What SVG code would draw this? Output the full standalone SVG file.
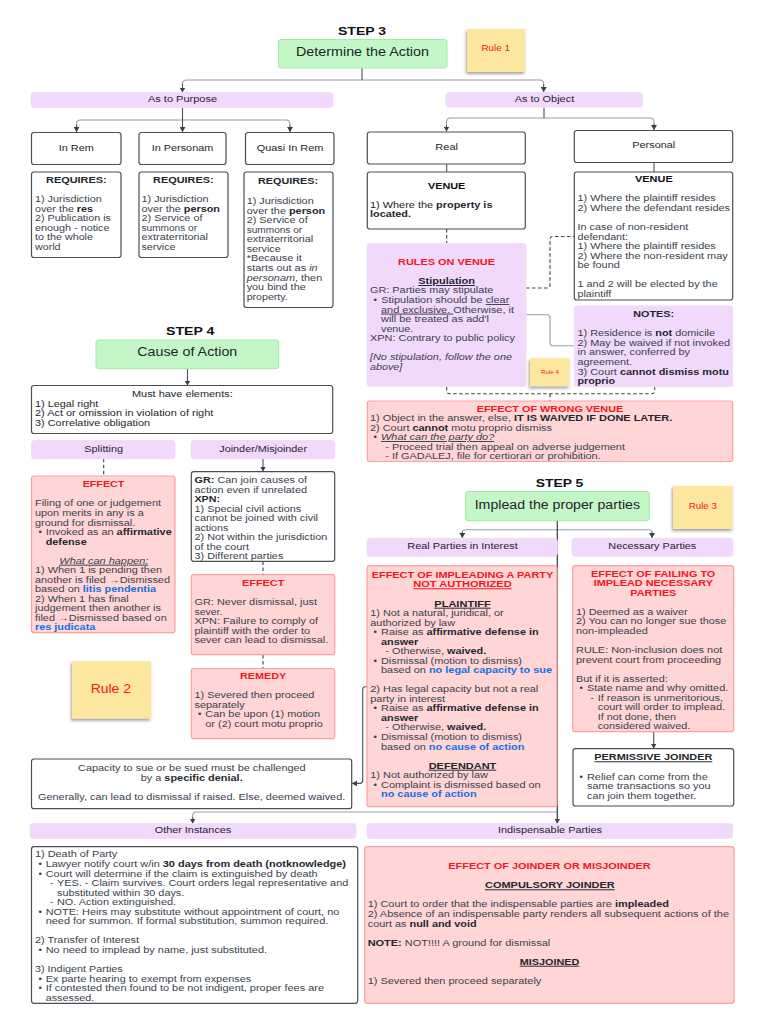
<svg xmlns="http://www.w3.org/2000/svg" width="768" height="1024" viewBox="0 0 768 1024">
<style>
text{font-family:"Liberation Sans",Arial,sans-serif;font-size:9.7px;fill:#3a414a}
.b{font-weight:700;fill:#23272e}
.r{fill:#f5161f;font-weight:700}
.bl{fill:#1071e5;font-weight:700}
.u{text-decoration:underline}
.i{font-style:italic}
.h{font-size:11.5px;font-weight:700;fill:#111}
.l{font-size:12.5px;fill:#1f2329}
.box{fill:#fff;stroke:#4a4f57;stroke-width:1.2}
.pur{fill:#f1d9fc;stroke:#efdcfb;stroke-width:1}
.red{fill:#ffd5d5;stroke:#ff9f9f;stroke-width:1.2}
.grn{fill:#c3f7c8;stroke:#a3eaa9;stroke-width:1}
.note{fill:#fde79f;filter:url(#sh)}
.c{fill:none;stroke:#4a4f57;stroke-width:1.1}
.cl{fill:none;stroke:#9a9ea5;stroke-width:1.1}
.d{fill:none;stroke:#3a414a;stroke-width:1.1;stroke-dasharray:3.5 2.5}
.a{marker-end:url(#ar)}
</style>
<defs>
<marker id="ar" markerUnits="userSpaceOnUse" markerWidth="6" markerHeight="6" refX="5" refY="3" orient="auto"><path d="M0 0L5 3L0 6z" fill="#3a414a"/></marker>
<filter id="sh" x="-20%" y="-20%" width="140%" height="140%"><feDropShadow dx="-1" dy="2" stdDeviation="1.5" flood-color="#555" flood-opacity=".55"/></filter>
</defs>
<rect width="768" height="1024" fill="#fff"/>
<g id="connectors">
<path class="cl" d="M362 80H186.500Q182.500 80 182.500 84"/>
<path class="a c" d="M182.500 84V92.500"/>
<path class="cl" d="M362 80H539.700Q543.700 80 543.700 84"/>
<path class="a c" d="M543.700 84V92"/>
<path class="c" d="M362 68V80"/>
<path class="cl" d="M182.500 120H80.500Q76.500 120 76.500 124V125"/>
<path class="a c" d="M76.500 125V132"/>
<path class="cl" d="M182.500 120H286Q290 120 290 124V125"/>
<path class="a c" d="M290 125V132"/>
<path class="c a" d="M182.500 107.500V132"/>
<path class="cl" d="M544 118H450.500Q446.500 118 446.500 122V125"/>
<path class="a c" d="M446.500 125V131.500"/>
<path class="cl" d="M544 118H650Q654 118 654 122V124"/>
<path class="a c" d="M654 124V130"/>
<path class="c" d="M544 107.500V118"/>
<path class="c" d="M446.700 164V172M654 162.500V172"/>
<path class="d" d="M446.700 229V243"/>
<path class="d" d="M526 288H547Q550 288 550 285V239.500Q550 236.500 553 236.500H574"/>
<path class="cl" d="M526 314.700H547Q550 314.700 550 317.700V342.700Q550 345.700 553 345.700H574"/>
<path class="d" d="M446.700 387V391Q446.700 393.700 449.700 393.700H651.700Q654.700 393.700 654.700 390.700V387M550 393.700V401"/>
<path class="c a" d="M187.500 368.700V385.500"/>
<path class="d" d="M103.700 458.700V476"/>
<path class="c a" d="M263 458.700V471.500"/>
<path class="d" d="M263 561.500V574.500M263 655V668"/>
<path class="c a" d="M367 686.700H365.500Q362.700 686.700 362.700 689.500V780.500Q362.700 783.400 360 783.400H352"/>
<path class="cl" d="M557.300 812H196.700Q192.700 812 192.700 816V817"/>
<path class="a c" d="M192.700 817V823.500"/>
<path class="cl" d="M557.300 529.700H466.300Q462.300 529.700 462.300 532"/>
<path class="a c" d="M462.300 532V538"/>
<path class="cl" d="M557.300 529.700H648Q652 529.700 652 532"/>
<path class="a c" d="M652 532V538"/>
<path class="c a" d="M557.300 520.500V823.500" style="stroke:#444a52;stroke-width:1.3"/>
<path class="c a" d="M653.700 731.700V748.500"/>
</g>
<g id="step3"><text class="h" x="338" y="34.500" textLength="48" lengthAdjust="spacingAndGlyphs">STEP 3</text></g>
<g id="determine"><rect class="grn" x="278.500" y="39.500" width="168.500" height="28.500" rx="2.500"/><text class="l" x="296" y="56" textLength="133" lengthAdjust="spacingAndGlyphs">Determine the Action</text></g>
<g id="rule1"><rect class="note" x="467" y="29" width="58" height="43"/><text x="481.500" y="51" fill="#f5161f" style="fill:#f5161f" textLength="28.500" lengthAdjust="spacingAndGlyphs">Rule 1</text></g>
<g id="purpose"><rect class="pur" x="31" y="92.500" width="302" height="15" rx="3"/><text x="148" y="102.200" textLength="69" lengthAdjust="spacingAndGlyphs" style="fill:#1f2329">As to Purpose</text></g>
<g id="object"><rect class="pur" x="446" y="92.500" width="196.500" height="14.500" rx="3"/><text x="514.700" y="102" textLength="59.500" lengthAdjust="spacingAndGlyphs" style="fill:#1f2329">As to Object</text></g>
<g id="inrem"><rect class="box" x="31.500" y="132.500" width="89.500" height="32" rx="2.500"/><text x="58.700" y="151" textLength="35.300" lengthAdjust="spacingAndGlyphs" style="fill:#1f2329">In Rem</text></g>
<g id="inpersonam"><rect class="box" x="139" y="132.500" width="87" height="32" rx="2.500"/><text x="151.700" y="151" textLength="61.600" lengthAdjust="spacingAndGlyphs" style="fill:#1f2329">In Personam</text></g>
<g id="quasi"><rect class="box" x="245.500" y="132.500" width="88.500" height="32" rx="2.500"/><text x="256.700" y="151" textLength="66.600" lengthAdjust="spacingAndGlyphs" style="fill:#1f2329">Quasi In Rem</text></g>
<g id="req1"><rect class="box" x="31.500" y="172" width="89.500" height="85.500" rx="2.500"/>
<text class="b" x="46" y="182.700" textLength="60.700" lengthAdjust="spacingAndGlyphs">REQUIRES:</text>
<text x="35" y="202" textLength="66.700" lengthAdjust="spacingAndGlyphs">1) Jurisdiction</text>
<text x="35" y="211.500" textLength="58" lengthAdjust="spacingAndGlyphs">over the <tspan class="b">res</tspan></text>
<text x="35" y="221" textLength="76" lengthAdjust="spacingAndGlyphs">2) Publication is</text>
<text x="35" y="230.600" textLength="74.500" lengthAdjust="spacingAndGlyphs">enough - notice</text>
<text x="35" y="240.100" textLength="58" lengthAdjust="spacingAndGlyphs">to the whole</text>
<text x="35" y="249.700" textLength="25.500" lengthAdjust="spacingAndGlyphs">world</text></g>
<g id="req2"><rect class="box" x="139" y="172" width="89" height="85.500" rx="2.500"/>
<text class="b" x="153" y="182.700" textLength="60.700" lengthAdjust="spacingAndGlyphs">REQUIRES:</text>
<text x="141.500" y="202" textLength="67" lengthAdjust="spacingAndGlyphs">1) Jurisdiction</text>
<text x="141.500" y="211.500" textLength="78.500" lengthAdjust="spacingAndGlyphs">over the <tspan class="b">person</tspan></text>
<text x="141.500" y="221" textLength="61" lengthAdjust="spacingAndGlyphs">2) Service of</text>
<text x="141.500" y="230.600" textLength="55.500" lengthAdjust="spacingAndGlyphs">summons or</text>
<text x="141.500" y="240.100" textLength="66.500" lengthAdjust="spacingAndGlyphs">extraterritorial</text>
<text x="141.500" y="249.700" textLength="34" lengthAdjust="spacingAndGlyphs">service</text></g>
<g id="req3"><rect class="box" x="244" y="172" width="89" height="135.500" rx="2.500"/>
<text class="b" x="258" y="184" textLength="60" lengthAdjust="spacingAndGlyphs">REQUIRES:</text>
<text x="246.700" y="204" textLength="67" lengthAdjust="spacingAndGlyphs">1) Jurisdiction</text>
<text x="246.700" y="213.600" textLength="78.500" lengthAdjust="spacingAndGlyphs">over the <tspan class="b">person</tspan></text>
<text x="246.700" y="223.200" textLength="61" lengthAdjust="spacingAndGlyphs">2) Service of</text>
<text x="246.700" y="232.700" textLength="55.500" lengthAdjust="spacingAndGlyphs">summons or</text>
<text x="246.700" y="242.300" textLength="66.500" lengthAdjust="spacingAndGlyphs">extraterritorial</text>
<text x="246.700" y="251.800" textLength="34" lengthAdjust="spacingAndGlyphs">service</text>
<text x="246.700" y="261.400" textLength="55" lengthAdjust="spacingAndGlyphs">*Because it</text>
<text x="246.700" y="270.900" textLength="71" lengthAdjust="spacingAndGlyphs">starts out as <tspan class="i">in</tspan></text>
<text x="246.700" y="280.500" textLength="75.500" lengthAdjust="spacingAndGlyphs"><tspan class="i">personam</tspan>, then</text>
<text x="246.700" y="290" textLength="59" lengthAdjust="spacingAndGlyphs">you bind the</text>
<text x="246.700" y="299.600" textLength="41" lengthAdjust="spacingAndGlyphs">property.</text></g>
<g id="real"><rect class="box" x="367.300" y="132" width="158" height="32" rx="2.500"/><text x="435.300" y="150" textLength="22.700" lengthAdjust="spacingAndGlyphs" style="fill:#1f2329">Real</text></g>
<g id="personal"><rect class="box" x="574.300" y="130.500" width="158.400" height="32" rx="2.500"/><text x="632.300" y="148" textLength="43" lengthAdjust="spacingAndGlyphs" style="fill:#1f2329">Personal</text></g>
<g id="venue-real"><rect class="box" x="367.300" y="172" width="158" height="57" rx="2.500"/>
<text class="b" x="428" y="188.500" textLength="37.300" lengthAdjust="spacingAndGlyphs" style="fill:#111">VENUE</text>
<text x="370" y="207.500" textLength="122.500" lengthAdjust="spacingAndGlyphs" style="fill:#1f2329">1) Where the <tspan class="b">property is</tspan></text>
<text class="b" x="370" y="217" textLength="41" lengthAdjust="spacingAndGlyphs">located.</text></g>
<g id="venue-personal"><rect class="box" x="574.300" y="172" width="158.400" height="128" rx="2.500"/>
<text class="b" x="635" y="182" textLength="37.700" lengthAdjust="spacingAndGlyphs" style="fill:#111">VENUE</text>
<text x="577.500" y="201.300" textLength="138.200" lengthAdjust="spacingAndGlyphs">1) Where the plaintiff resides</text>
<text x="577.500" y="210.900" textLength="152.500" lengthAdjust="spacingAndGlyphs">2) Where the defendant resides</text>
<text x="577.500" y="230" textLength="110.800" lengthAdjust="spacingAndGlyphs">In case of non-resident</text>
<text x="577.500" y="239.600" textLength="50.500" lengthAdjust="spacingAndGlyphs">defendant:</text>
<text x="577.500" y="249.200" textLength="138.200" lengthAdjust="spacingAndGlyphs">1) Where the plaintiff resides</text>
<text x="577.500" y="258.700" textLength="150.200" lengthAdjust="spacingAndGlyphs">2) Where the non-resident may</text>
<text x="577.500" y="268.200" textLength="42.200" lengthAdjust="spacingAndGlyphs">be found</text>
<text x="577.500" y="287.300" textLength="140.200" lengthAdjust="spacingAndGlyphs">1 and 2 will be elected by the</text>
<text x="577.500" y="296.800" textLength="33.800" lengthAdjust="spacingAndGlyphs">plaintiff</text></g>
<g id="rules-venue"><rect class="pur" x="367" y="243.500" width="159" height="143" rx="3"/>
<text class="r" x="398" y="264.700" textLength="97" lengthAdjust="spacingAndGlyphs">RULES ON VENUE</text>
<text class="b u" x="418.300" y="284" textLength="56.700" lengthAdjust="spacingAndGlyphs">Stipulation</text>
<text x="370" y="293.300" textLength="123.300" lengthAdjust="spacingAndGlyphs">GR: Parties may stipulate</text>
<text x="373.500" y="303">•</text>
<text x="381.300" y="303" textLength="128" lengthAdjust="spacingAndGlyphs">Stipulation should be <tspan class="u">clear</tspan></text>
<text x="381" y="312.600" textLength="133" lengthAdjust="spacingAndGlyphs"><tspan class="u">and exclusive. </tspan>Otherwise, it</text>
<text x="381" y="322.100" textLength="108" lengthAdjust="spacingAndGlyphs">will be treated as add'l</text>
<text x="381" y="331.700" textLength="32.300" lengthAdjust="spacingAndGlyphs">venue.</text>
<text x="370" y="341.300" textLength="145" lengthAdjust="spacingAndGlyphs">XPN: Contrary to public policy</text>
<text class="i" x="370" y="360.300" textLength="142" lengthAdjust="spacingAndGlyphs">[No stipulation, follow the one</text>
<text class="i" x="370" y="369.800" textLength="32.300" lengthAdjust="spacingAndGlyphs">above]</text></g>
<g id="notes"><rect class="pur" x="574.300" y="306" width="158.400" height="80.700" rx="3"/>
<text class="b" x="633.300" y="317.300" textLength="40.700" lengthAdjust="spacingAndGlyphs">NOTES:</text>
<text x="577.500" y="336.300" textLength="137.500" lengthAdjust="spacingAndGlyphs">1) Residence is <tspan class="b">not</tspan> domicile</text>
<text x="577.500" y="346" textLength="152.500" lengthAdjust="spacingAndGlyphs">2) May be waived if not invoked</text>
<text x="577.500" y="355.300" textLength="112.500" lengthAdjust="spacingAndGlyphs">in answer, conferred by</text>
<text x="577.500" y="365" textLength="54.500" lengthAdjust="spacingAndGlyphs">agreement.</text>
<text x="577.500" y="374.700" textLength="151.500" lengthAdjust="spacingAndGlyphs">3) Court <tspan class="b">cannot dismiss motu</tspan></text>
<text class="b" x="577.500" y="384" textLength="37.500" lengthAdjust="spacingAndGlyphs">proprio</text></g>
<g id="rule4"><rect class="note" x="530" y="358.300" width="39.500" height="28"/><text x="541" y="373.500" style="font-size:5px;fill:#f5161f" textLength="18" lengthAdjust="spacingAndGlyphs">Rule 4</text></g>
<g id="wrong-venue"><rect class="red" x="367.300" y="401" width="365.400" height="60.500" rx="2.500"/>
<text class="r" x="476.700" y="411.500" textLength="146.600" lengthAdjust="spacingAndGlyphs">EFFECT OF WRONG VENUE</text>
<text x="370" y="420.900" textLength="302.300" lengthAdjust="spacingAndGlyphs">1) Object in the answer, else, <tspan class="b">IT IS WAIVED IF DONE LATER.</tspan></text>
<text x="370" y="430.500" textLength="182" lengthAdjust="spacingAndGlyphs">2) Court <tspan class="b">cannot</tspan> motu proprio dismiss</text>
<text x="373.500" y="440">•</text>
<text class="i u" x="381" y="440" textLength="113.300" lengthAdjust="spacingAndGlyphs">What can the party do?</text>
<text x="385.500" y="449.500">-</text>
<text x="392" y="449.500" textLength="233" lengthAdjust="spacingAndGlyphs">Proceed trial then appeal on adverse judgement</text>
<text x="385.500" y="459">-</text>
<text x="392" y="459" textLength="208.700" lengthAdjust="spacingAndGlyphs">If GADALEJ, file for certiorari or prohibition.</text></g>
<g id="step4"><text class="h" x="166" y="335" textLength="48.300" lengthAdjust="spacingAndGlyphs">STEP 4</text></g>
<g id="cause"><rect class="grn" x="96" y="340" width="182.700" height="28.700" rx="2.500"/><text class="l" x="137.300" y="356" textLength="100" lengthAdjust="spacingAndGlyphs">Cause of Action</text></g>
<g id="elements"><rect class="box" x="31.500" y="385.500" width="301.200" height="48" rx="2.500"/>
<text x="132" y="397" textLength="100.700" lengthAdjust="spacingAndGlyphs" style="fill:#1f2329">Must have elements:</text>
<text x="35" y="406.700" textLength="63.300" lengthAdjust="spacingAndGlyphs" style="fill:#1f2329">1) Legal right</text>
<text x="35" y="416.200" textLength="178.300" lengthAdjust="spacingAndGlyphs" style="fill:#1f2329">2) Act or omission in violation of right</text>
<text x="35" y="425.700" textLength="115" lengthAdjust="spacingAndGlyphs" style="fill:#1f2329">3) Correlative obligation</text></g>
<g id="splitting"><rect class="pur" x="31.500" y="440.500" width="143.500" height="18.200" rx="3"/><text x="84.300" y="451.700" textLength="38.700" lengthAdjust="spacingAndGlyphs" style="fill:#1f2329">Splitting</text></g>
<g id="joinder"><rect class="pur" x="191" y="440.500" width="143.700" height="18.200" rx="3"/><text x="219.300" y="451.700" textLength="87.700" lengthAdjust="spacingAndGlyphs" style="fill:#1f2329">Joinder/Misjoinder</text></g>
<g id="effect-split"><rect class="red" x="31.500" y="476" width="143.500" height="156.700" rx="2.500"/>
<text class="r" x="82.700" y="487.300" textLength="41.600" lengthAdjust="spacingAndGlyphs">EFFECT</text>
<text x="35" y="506.300" textLength="126" lengthAdjust="spacingAndGlyphs">Filing of one or judgement</text>
<text x="35" y="516" textLength="108.700" lengthAdjust="spacingAndGlyphs">upon merits in any is a</text>
<text x="35" y="525.500" textLength="100.300" lengthAdjust="spacingAndGlyphs">ground for dismissal.</text>
<text x="38.500" y="535">•</text>
<text x="45.700" y="535" textLength="126" lengthAdjust="spacingAndGlyphs">Invoked as an <tspan class="b">affirmative</tspan></text>
<text class="b" x="45.700" y="544.500" textLength="41" lengthAdjust="spacingAndGlyphs">defense</text>
<text class="i u" x="59.300" y="563.700" textLength="89" lengthAdjust="spacingAndGlyphs">What can happen:</text>
<text x="35" y="573.300" textLength="127" lengthAdjust="spacingAndGlyphs">1) When 1 is pending then</text>
<text x="35" y="582.800" textLength="135" lengthAdjust="spacingAndGlyphs">another is filed →Dismissed</text>
<text x="35" y="592.300" textLength="121" lengthAdjust="spacingAndGlyphs">based on <tspan class="bl">litis pendentia</tspan></text>
<text x="35" y="601.800" textLength="93.700" lengthAdjust="spacingAndGlyphs">2) When 1 has final</text>
<text x="35" y="611.300" textLength="126" lengthAdjust="spacingAndGlyphs">judgement then another is</text>
<text x="35" y="620.800" textLength="131.700" lengthAdjust="spacingAndGlyphs">filed →Dismissed based on</text>
<text class="bl" x="35" y="630.300" textLength="60.300" lengthAdjust="spacingAndGlyphs">res judicata</text></g>
<g id="joinder-rules"><rect class="box" x="191.300" y="471.700" width="143.400" height="89.600" rx="2.500"/>
<text x="194.500" y="483" textLength="112.500" lengthAdjust="spacingAndGlyphs"><tspan class="b">GR:</tspan> Can join causes of</text>
<text x="194.500" y="492.500" textLength="112.500" lengthAdjust="spacingAndGlyphs">action even if unrelated</text>
<text class="b" x="194.500" y="502" textLength="25.500" lengthAdjust="spacingAndGlyphs">XPN:</text>
<text x="194.500" y="511.600" textLength="106.800" lengthAdjust="spacingAndGlyphs">1) Special civil actions</text>
<text x="194.500" y="521" textLength="123.500" lengthAdjust="spacingAndGlyphs">cannot be joined with civil</text>
<text x="194.500" y="530.700" textLength="33.800" lengthAdjust="spacingAndGlyphs">actions</text>
<text x="194.500" y="540.200" textLength="132.800" lengthAdjust="spacingAndGlyphs">2) Not within the jurisdiction</text>
<text x="194.500" y="549.700" textLength="54.500" lengthAdjust="spacingAndGlyphs">of the court</text>
<text x="194.500" y="559.200" textLength="88.800" lengthAdjust="spacingAndGlyphs">3) Different parties</text></g>
<g id="effect-join"><rect class="red" x="191.300" y="574.700" width="143.400" height="80" rx="2.500"/>
<text class="r" x="242" y="585.700" textLength="42.300" lengthAdjust="spacingAndGlyphs">EFFECT</text>
<text x="194.500" y="605" textLength="122.500" lengthAdjust="spacingAndGlyphs">GR: Never dismissal, just</text>
<text x="194.500" y="614.500" textLength="27.800" lengthAdjust="spacingAndGlyphs">sever.</text>
<text x="194.500" y="624" textLength="123.500" lengthAdjust="spacingAndGlyphs">XPN: Failure to comply of</text>
<text x="194.500" y="633.500" textLength="115.500" lengthAdjust="spacingAndGlyphs">plaintiff with the order to</text>
<text x="194.500" y="643" textLength="133.800" lengthAdjust="spacingAndGlyphs">sever can lead to dismissal.</text></g>
<g id="remedy"><rect class="red" x="191.300" y="668.500" width="143.400" height="70.200" rx="2.500"/>
<text class="r" x="240" y="679" textLength="46.300" lengthAdjust="spacingAndGlyphs">REMEDY</text>
<text x="194.500" y="698" textLength="119.800" lengthAdjust="spacingAndGlyphs">1) Severed then proceed</text>
<text x="194.500" y="707.500" textLength="50.200" lengthAdjust="spacingAndGlyphs">separately</text>
<text x="198" y="717">•</text>
<text x="205.300" y="717" textLength="114.700" lengthAdjust="spacingAndGlyphs">Can be upon (1) motion</text>
<text x="205.300" y="726.500" textLength="117.400" lengthAdjust="spacingAndGlyphs">or (2) court motu proprio</text></g>
<g id="rule2"><rect class="note" x="72" y="661.300" width="79" height="57.400"/><text x="90.700" y="692.500" style="font-size:13px;fill:#f5161f" textLength="40.300" lengthAdjust="spacingAndGlyphs">Rule 2</text></g>
<g id="capacity"><rect class="box" x="31.500" y="759" width="320.200" height="49.700" rx="2.500"/>
<text x="78" y="771.300" textLength="227.700" lengthAdjust="spacingAndGlyphs">Capacity to sue or be sued must be challenged</text>
<text x="140.700" y="780.800" textLength="102" lengthAdjust="spacingAndGlyphs">by a <tspan class="b">specific denial.</tspan></text>
<text x="38" y="800" textLength="307.300" lengthAdjust="spacingAndGlyphs">Generally, can lead to dismissal if raised. Else, deemed waived.</text></g>
<g id="other"><rect class="pur" x="30" y="823.700" width="326" height="14.800" rx="3"/><text x="154.700" y="833.200" textLength="76.600" lengthAdjust="spacingAndGlyphs" style="fill:#1f2329">Other Instances</text></g>
<g id="indispensable"><rect class="pur" x="367" y="823.700" width="365.700" height="14.800" rx="3"/><text x="498" y="833.200" textLength="104" lengthAdjust="spacingAndGlyphs" style="fill:#1f2329">Indispensable Parties</text></g>
<g id="step5"><text class="h" x="535.700" y="486.700" textLength="47.600" lengthAdjust="spacingAndGlyphs">STEP 5</text></g>
<g id="implead"><rect class="grn" x="465.700" y="491.500" width="183.600" height="29.200" rx="2.500"/><text class="l" x="474.700" y="508.700" textLength="165.300" lengthAdjust="spacingAndGlyphs">Implead the proper parties</text></g>
<g id="rule3"><rect class="note" x="673" y="486" width="59.700" height="43"/><text x="688.700" y="508.700" style="fill:#f5161f" textLength="28.300" lengthAdjust="spacingAndGlyphs">Rule 3</text></g>
<g id="real-parties"><rect class="pur" x="367" y="538.300" width="190.300" height="18" rx="3"/><text x="407.300" y="549.300" textLength="110.400" lengthAdjust="spacingAndGlyphs" style="fill:#1f2329">Real Parties in Interest</text></g>
<g id="necessary"><rect class="pur" x="572" y="538.300" width="161" height="18" rx="3"/><text x="608.300" y="549.300" textLength="88" lengthAdjust="spacingAndGlyphs" style="fill:#1f2329">Necessary Parties</text></g>
<g id="effect-implead"><rect class="red" x="367" y="565.700" width="190" height="241" rx="2.500"/>
<text class="r" x="371.700" y="577.700" textLength="181.600" lengthAdjust="spacingAndGlyphs">EFFECT OF IMPLEADING A PARTY</text>
<text class="r u" x="413.300" y="587.300" textLength="98.400" lengthAdjust="spacingAndGlyphs">NOT AUTHORIZED</text>
<text class="b u" x="434.300" y="606.700" textLength="56.400" lengthAdjust="spacingAndGlyphs">PLAINTIFF</text>
<text x="370.300" y="616" textLength="133.400" lengthAdjust="spacingAndGlyphs">1) Not a natural, juridical, or</text>
<text x="370.300" y="625.700" textLength="84.700" lengthAdjust="spacingAndGlyphs">authorized by law</text>
<text x="373.500" y="635">•</text>
<text x="381" y="635" textLength="157.700" lengthAdjust="spacingAndGlyphs">Raise as <tspan class="b">affirmative defense in</tspan></text>
<text class="b" x="381" y="644.700" textLength="37.300" lengthAdjust="spacingAndGlyphs">answer</text>
<text x="385.500" y="654.300">-</text>
<text x="392" y="654.300" textLength="94.300" lengthAdjust="spacingAndGlyphs">Otherwise, <tspan class="b">waived.</tspan></text>
<text x="373.500" y="663.700">•</text>
<text x="381" y="663.700" textLength="141" lengthAdjust="spacingAndGlyphs">Dismissal (motion to dismiss)</text>
<text x="381" y="673.300" textLength="171" lengthAdjust="spacingAndGlyphs">based on <tspan class="bl">no legal capacity to sue</tspan></text>
<text x="370.300" y="692.300" textLength="168" lengthAdjust="spacingAndGlyphs">2) Has legal capacity but not a real</text>
<text x="370.300" y="702" textLength="74.700" lengthAdjust="spacingAndGlyphs">party in interest</text>
<text x="373.500" y="711.300">•</text>
<text x="381" y="711.300" textLength="157.700" lengthAdjust="spacingAndGlyphs">Raise as <tspan class="b">affirmative defense in</tspan></text>
<text class="b" x="381" y="721" textLength="37.300" lengthAdjust="spacingAndGlyphs">answer</text>
<text x="385.500" y="730.300">-</text>
<text x="392" y="730.300" textLength="94.300" lengthAdjust="spacingAndGlyphs">Otherwise, <tspan class="b">waived.</tspan></text>
<text x="373.500" y="740">•</text>
<text x="381" y="740" textLength="141" lengthAdjust="spacingAndGlyphs">Dismissal (motion to dismiss)</text>
<text x="381" y="749.700" textLength="143.300" lengthAdjust="spacingAndGlyphs">based on <tspan class="bl">no cause of action</tspan></text>
<text class="b u" x="428.700" y="768.700" textLength="67.600" lengthAdjust="spacingAndGlyphs">DEFENDANT</text>
<text x="370.300" y="778.300" textLength="117.700" lengthAdjust="spacingAndGlyphs">1) Not authorized by law</text>
<text x="373.500" y="787.700">•</text>
<text x="381" y="787.700" textLength="159.700" lengthAdjust="spacingAndGlyphs">Complaint is dismissed based on</text>
<text class="bl" x="381" y="797.300" textLength="95.700" lengthAdjust="spacingAndGlyphs">no cause of action</text></g>
<g id="effect-necessary"><rect class="red" x="572.700" y="565.700" width="161" height="166" rx="2.500"/>
<text class="r" x="591" y="576.700" textLength="124.300" lengthAdjust="spacingAndGlyphs">EFFECT OF FAILING TO</text>
<text class="r" x="593.700" y="586.300" textLength="119.300" lengthAdjust="spacingAndGlyphs">IMPLEAD NECESSARY</text>
<text class="r" x="630.300" y="595.700" textLength="46" lengthAdjust="spacingAndGlyphs">PARTIES</text>
<text x="576" y="615" textLength="111.700" lengthAdjust="spacingAndGlyphs">1) Deemed as a waiver</text>
<text x="576" y="624.300" textLength="150.300" lengthAdjust="spacingAndGlyphs">2) You can no longer sue those</text>
<text x="576" y="634" textLength="71.700" lengthAdjust="spacingAndGlyphs">non-impleaded</text>
<text x="576" y="653" textLength="146.300" lengthAdjust="spacingAndGlyphs">RULE: Non-inclusion does not</text>
<text x="576" y="662.700" textLength="145" lengthAdjust="spacingAndGlyphs">prevent court from proceeding</text>
<text x="576" y="681.700" textLength="91.700" lengthAdjust="spacingAndGlyphs">But if it is asserted:</text>
<text x="579.500" y="691.300">•</text>
<text x="587" y="691.300" textLength="141.300" lengthAdjust="spacingAndGlyphs">State name and why omitted.</text>
<text x="590.500" y="700.700">-</text>
<text x="597.700" y="700.700" textLength="125.300" lengthAdjust="spacingAndGlyphs">If reason is unmeritorious,</text>
<text x="597.700" y="710.300" textLength="127.300" lengthAdjust="spacingAndGlyphs">court will order to implead.</text>
<text x="597.700" y="720" textLength="78.300" lengthAdjust="spacingAndGlyphs">If not done, then</text>
<text x="597.700" y="729.300" textLength="92.600" lengthAdjust="spacingAndGlyphs">considered waived.</text></g>
<g id="permissive"><rect class="box" x="573" y="748.700" width="160.700" height="57.300" rx="2.500"/>
<text class="b u" x="594.300" y="760.300" textLength="118" lengthAdjust="spacingAndGlyphs">PERMISSIVE JOINDER</text>
<text x="579.500" y="779.700">•</text>
<text x="587" y="779.700" textLength="120.700" lengthAdjust="spacingAndGlyphs">Relief can come from the</text>
<text x="587" y="789" textLength="123.700" lengthAdjust="spacingAndGlyphs">same transactions so you</text>
<text x="587" y="798.700" textLength="109.300" lengthAdjust="spacingAndGlyphs">can join them together.</text></g>
<g id="other-details"><rect class="box" x="31.500" y="846.700" width="326.200" height="156.600" rx="2.500"/>
<text x="35" y="857.300" textLength="82.300" lengthAdjust="spacingAndGlyphs">1) Death of Party</text>
<text x="38.500" y="866.900">•</text>
<text x="45.700" y="866.900" textLength="300.300" lengthAdjust="spacingAndGlyphs">Lawyer notify court w/in <tspan class="b">30 days from death (notknowledge)</tspan></text>
<text x="38.500" y="876.500">•</text>
<text x="45.700" y="876.500" textLength="272" lengthAdjust="spacingAndGlyphs">Court will determine if the claim is extinguished by death</text>
<text x="50" y="885.900">-</text>
<text x="57" y="885.900" textLength="291.300" lengthAdjust="spacingAndGlyphs">YES. - Claim survives. Court orders legal representative and</text>
<text x="57" y="895.500" textLength="127.300" lengthAdjust="spacingAndGlyphs">substituted within 30 days.</text>
<text x="50" y="905.300">-</text>
<text x="57" y="905.300" textLength="119" lengthAdjust="spacingAndGlyphs">NO. Action extinguished.</text>
<text x="38.500" y="914.700">•</text>
<text x="45.700" y="914.700" textLength="293.600" lengthAdjust="spacingAndGlyphs">NOTE: Heirs may substitute without appointment of court, no</text>
<text x="45.700" y="924.300" textLength="282.600" lengthAdjust="spacingAndGlyphs">need for summon. If formal substitution, summon required.</text>
<text x="35" y="943.300" textLength="104" lengthAdjust="spacingAndGlyphs">2) Transfer of Interest</text>
<text x="38.500" y="953">•</text>
<text x="45.700" y="953" textLength="221.300" lengthAdjust="spacingAndGlyphs">No need to implead by name, just substituted.</text>
<text x="35" y="972" textLength="87.700" lengthAdjust="spacingAndGlyphs">3) Indigent Parties</text>
<text x="38.500" y="981.700">•</text>
<text x="45.700" y="981.700" textLength="205.600" lengthAdjust="spacingAndGlyphs">Ex parte hearing to exempt from expenses</text>
<text x="38.500" y="991">•</text>
<text x="45.700" y="991" textLength="278.300" lengthAdjust="spacingAndGlyphs">If contested then found to be not indigent, proper fees are</text>
<text x="45.700" y="1000.700" textLength="48.600" lengthAdjust="spacingAndGlyphs">assessed.</text></g>
<g id="effect-joinder"><rect class="red" x="364.700" y="846.700" width="369.300" height="156.600" rx="2.500"/>
<text class="r" x="448.300" y="869.300" textLength="202.400" lengthAdjust="spacingAndGlyphs">EFFECT OF JOINDER OR MISJOINDER</text>
<text class="b u" x="485" y="888.300" textLength="129.700" lengthAdjust="spacingAndGlyphs">COMPULSORY JOINDER</text>
<text x="367.700" y="907" textLength="301.300" lengthAdjust="spacingAndGlyphs">1) Court to order that the indispensable parties are <tspan class="b">impleaded</tspan></text>
<text x="367.700" y="916.700" textLength="361.300" lengthAdjust="spacingAndGlyphs">2) Absence of an indispensable party renders all subsequent actions of the</text>
<text x="367.700" y="926.700" textLength="109" lengthAdjust="spacingAndGlyphs">court as <tspan class="b">null and void</tspan></text>
<text x="367.700" y="945.700" textLength="182.600" lengthAdjust="spacingAndGlyphs"><tspan class="b">NOTE:</tspan> NOT!!!! A ground for dismissal</text>
<text class="b u" x="519.700" y="964.700" textLength="59.600" lengthAdjust="spacingAndGlyphs">MISJOINED</text>
<text x="367.700" y="984" textLength="173.600" lengthAdjust="spacingAndGlyphs">1) Severed then proceed separately</text></g>
</svg>
